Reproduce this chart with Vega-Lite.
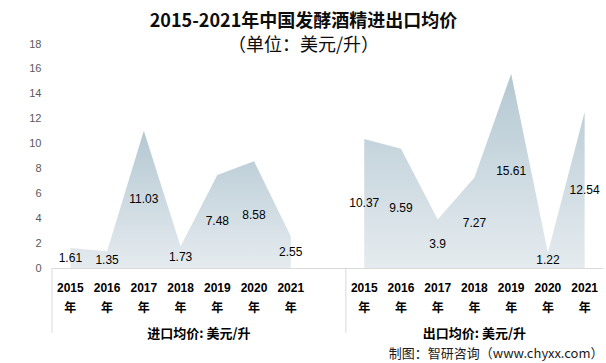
{
  "$schema": "https://vega.github.io/schema/vega-lite/v6.json",
  "width": 551,
  "height": 224,
  "autosize": "none",
  "padding": {"left": 52, "top": 44, "right": 3, "bottom": 95},
  "background": "white",
  "config": {
    "view": {"stroke": null},
    "axisY": {"labelOverlap": false, "labelFlush": false, "labelBound": false},
    "axisX": {"labelOverlap": false}
  },
  "title": {
    "text": "2015-2021年中国发酵酒精进出口均价",
    "subtitle": "（单位：美元/升）",
    "anchor": "middle",
    "frame": "group",
    "dx": -24,
    "offset": -17,
    "font": "Noto Sans CJK SC",
    "fontSize": 18,
    "fontWeight": "bold",
    "color": "#0d0d0d",
    "subtitleFont": "Noto Sans CJK SC",
    "subtitleFontSize": 18,
    "subtitleFontWeight": "normal",
    "subtitleColor": "#0d0d0d",
    "subtitlePadding": 6
  },
  "data": {
    "values": [
      {"g": "进口", "year": "2015", "k": "i2015", "v": 1.61},
      {"g": "进口", "year": "2016", "k": "i2016", "v": 1.35},
      {"g": "进口", "year": "2017", "k": "i2017", "v": 11.03},
      {"g": "进口", "year": "2018", "k": "i2018", "v": 1.73},
      {"g": "进口", "year": "2019", "k": "i2019", "v": 7.48},
      {"g": "进口", "year": "2020", "k": "i2020", "v": 8.58},
      {"g": "进口", "year": "2021", "k": "i2021", "v": 2.55},
      {"g": "出口", "year": "2015", "k": "e2015", "v": 10.37},
      {"g": "出口", "year": "2016", "k": "e2016", "v": 9.59},
      {"g": "出口", "year": "2017", "k": "e2017", "v": 3.9},
      {"g": "出口", "year": "2018", "k": "e2018", "v": 7.27},
      {"g": "出口", "year": "2019", "k": "e2019", "v": 15.61},
      {"g": "出口", "year": "2020", "k": "e2020", "v": 1.22},
      {"g": "出口", "year": "2021", "k": "e2021", "v": 12.54}
    ]
  },
  "layer": [
    {
      "mark": {
        "type": "area",
        "interpolate": "linear",
        "fill": {
          "gradient": "linear",
          "x1": 0, "y1": 0, "x2": 0, "y2": 1,
          "stops": [
            {"offset": 0, "color": "#b4c8d2"},
            {"offset": 1, "color": "#e5ebef"}
          ]
        },
        "opacity": 1
      },
      "encoding": {
        "x": {
          "field": "k",
          "type": "nominal",
          "sort": null,
          "bandPosition": 0.5,
          "scale": {
            "type": "band",
            "domain": ["i2015","i2016","i2017","i2018","i2019","i2020","i2021","gap","e2015","e2016","e2017","e2018","e2019","e2020","e2021"],
            "paddingInner": 0,
            "paddingOuter": 0
          },
          "axis": {
            "title": "制图：智研咨询（www.chyxx.com）",
            "titleAnchor": "end",
            "titleAlign": "right",
            "titleFont": "Noto Sans CJK SC",
            "titleFontSize": 13,
            "titleFontWeight": "normal",
            "titleColor": "#1a1a1a",
            "titlePadding": 34,
            "labelExpr": "datum.value == 'gap' ? '' : [substring(datum.value, 1), '年']",
            "labelAngle": 0,
            "labelFont": "Liberation Sans, Noto Sans CJK SC",
            "labelFontSize": 12,
            "labelFontWeight": "bold",
            "labelColor": "#000000",
            "labelPadding": 14,
            "labelLineHeight": 20,
            "labelOverlap": false,
            "ticks": false,
            "domainColor": "#d9d9d9",
            "domainWidth": 1
          }
        },
        "y": {
          "field": "v",
          "type": "quantitative",
          "stack": null,
          "scale": {"domain": [0, 18], "nice": false},
          "axis": {
            "title": null,
            "values": [0, 2, 4, 6, 8, 10, 12, 14, 16, 18],
            "tickCount": 10,
            "labelOverlap": false,
            "domain": false,
            "ticks": false,
            "grid": false,
            "labelFont": "Liberation Sans",
            "labelFontSize": 11,
            "labelColor": "#595959",
            "labelPadding": 11
          }
        },
        "detail": {"field": "g", "type": "nominal"}
      }
    },
    {
      "transform": [{"calculate": "datum.v / 2", "as": "ly"}],
      "mark": {"type": "text", "font": "Liberation Sans", "fontSize": 12, "color": "#000000", "baseline": "middle"},
      "encoding": {
        "x": {"field": "k", "type": "nominal", "bandPosition": 0.5},
        "y": {"field": "ly", "type": "quantitative", "axis": {"values": [0, 2, 4, 6, 8, 10, 12, 14, 16, 18], "labelOverlap": false}},
        "text": {"field": "v", "type": "nominal"}
      }
    },
    {
      "data": {"values": [{"k": "i2015"}, {"k": "e2015"}]},
      "mark": {"type": "rule", "color": "#d9d9d9", "strokeWidth": 1},
      "encoding": {
        "x": {"field": "k", "type": "nominal", "bandPosition": 0},
        "y": {"datum": 0},
        "y2": {"datum": -5.2}
      }
    },
    {
      "data": {"values": [{"k": "i2019", "label": "进口均价: 美元/升"}]},
      "mark": {"type": "text", "font": "Noto Sans CJK SC", "fontSize": 13, "fontWeight": "bold", "color": "#000000", "baseline": "middle"},
      "encoding": {
        "x": {"field": "k", "type": "nominal", "bandPosition": 0},
        "y": {"datum": -5.3},
        "text": {"field": "label"}
      }
    },
    {
      "data": {"values": [{"k": "e2018", "label": "出口均价: 美元/升"}]},
      "mark": {"type": "text", "font": "Noto Sans CJK SC", "fontSize": 13, "fontWeight": "bold", "color": "#000000", "baseline": "middle"},
      "encoding": {
        "x": {"field": "k", "type": "nominal", "bandPosition": 0.5},
        "y": {"datum": -5.3},
        "text": {"field": "label"}
      }
    }
  ]
}
